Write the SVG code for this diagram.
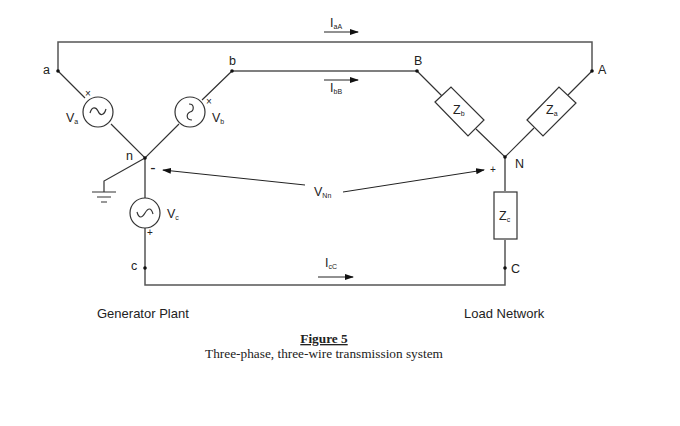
<svg xmlns="http://www.w3.org/2000/svg" width="680" height="426" viewBox="0 0 680 426">
<style>
.w{fill:none;stroke:#333;stroke-width:1.2}
.g{fill:none;stroke:#555;stroke-width:1.5}
.c{fill:#fff;stroke:#333;stroke-width:1.2}
.t{font-family:"Liberation Sans",Arial,sans-serif;font-size:12.5px;fill:#222}
.l{font-size:13px}
.x{font-size:10px;text-anchor:middle}
.s{font-size:7px}
.f{font-family:"Liberation Serif","Times New Roman",serif;font-size:13.3px;fill:#222;text-anchor:middle}
.ar{fill:none;stroke:#222;stroke-width:1;marker-end:url(#ah)}
.d{fill:#111}
</style>
<defs><marker id="ah" markerWidth="9" markerHeight="6" refX="8" refY="3" orient="auto" markerUnits="userSpaceOnUse"><path d="M0,0L9,3L0,6Z" fill="#111"/></marker></defs>
<rect width="680" height="426" fill="#fff"/>
<g id="connectors">
<path class="g" d="M58,71V42H592V71"/>
<path class="g" d="M232,71H417"/>
<path class="w" d="M58,71L85,98M111,124L145,158L179,124M202,100L232,71"/>
<path class="w" d="M417,71L442,96M476,129L505,157L534,128M568,95L592,71"/>
<path class="g" d="M145,158V198M145,228V285H505V240M505,157V191"/>
<path class="w" d="M145,158L104,181V192"/>
<path class="w" d="M92,192H116M97,197H111M101,202H107"/>
<path class="ar" d="M324,32H358"/>
<path class="ar" d="M324,80H358"/>
<path class="ar" d="M318,277H353"/>
<path class="ar" d="M305,185L163,170"/>
<path class="ar" d="M343,192L484,170"/>
</g>
<g id="node-a"><circle class="d" cx="58" cy="71" r="1.8"/><text class="t" x="43" y="74">a</text></g>
<g id="node-b"><circle class="d" cx="232" cy="71" r="1.8"/><text class="t" x="229" y="65">b</text></g>
<g id="node-B"><circle class="d" cx="417" cy="71" r="1.8"/><text class="t" x="414" y="65">B</text></g>
<g id="node-A"><circle class="d" cx="592" cy="71" r="1.8"/><text class="t" x="598" y="74">A</text></g>
<g id="node-n"><circle class="d" cx="145" cy="158" r="1.8"/><text class="t" x="126" y="160">n</text></g>
<g id="node-N"><circle class="d" cx="505" cy="157" r="1.8"/><text class="t" x="515" y="168">N</text></g>
<g id="node-c"><circle class="d" cx="145" cy="268" r="1.8"/><text class="t" x="131" y="270">c</text></g>
<g id="node-C"><circle class="d" cx="505" cy="268" r="1.8"/><text class="t" x="511" y="273">C</text></g>
<g id="source-a"><circle class="c" cx="98" cy="112" r="15"/><path class="w" d="M90,113C92,106 96,107 98,111C100,116 104,116 106,109"/><text class="t x" x="88" y="97">×</text><text class="t" x="66" y="122">V<tspan class="s" dy="2">a</tspan></text></g>
<g id="source-b"><circle class="c" cx="190" cy="112" r="15"/><path class="w" d="M189,104C195,104 194,111 190,112C186,114 186,120 192,120"/><text class="t x" x="209" y="105">×</text><text class="t" x="212" y="122">V<tspan class="s" dy="2">b</tspan></text></g>
<g id="source-c"><circle class="c" cx="145" cy="213" r="15"/><path class="w" d="M137,212C139,219 142,218 145,213C148,208 151,207 153,214"/><text class="t" x="167" y="218">V<tspan class="s" dy="2">c</tspan></text><text class="t x" x="150" y="236">+</text></g>
<g id="load-b"><path class="c" d="M435,102L451,87L484,120L468,136Z"/><text class="t" x="453" y="114">Z<tspan class="s" dy="2">b</tspan></text></g>
<g id="load-a"><path class="c" d="M527,120L559,87L576,103L543,136Z"/><text class="t" x="546" y="114">Z<tspan class="s" dy="2">a</tspan></text></g>
<g id="load-c"><rect class="c" x="494" y="192" width="23" height="47"/><text class="t" x="499" y="220">Z<tspan class="s" dy="2">c</tspan></text></g>
<g id="labels">
<text class="t" x="330" y="27">I<tspan class="s" dy="2">aA</tspan></text>
<text class="t" x="330" y="92">I<tspan class="s" dy="2">bB</tspan></text>
<text class="t" x="325" y="267">I<tspan class="s" dy="2">cC</tspan></text>
<text class="t" x="314" y="196">V<tspan class="s" dy="2">Nn</tspan></text>
<text class="t x" x="153" y="173" style="font-size:16px">-</text>
<text class="t x" x="493" y="173">+</text>
<text class="t l" x="97" y="318">Generator Plant</text>
<text class="t l" x="464" y="318">Load Network</text>
<text class="f" x="324" y="343" style="font-weight:bold;text-decoration:underline">Figure 5</text>
<text class="f" x="324" y="358">Three-phase, three-wire transmission system</text>
</g>
</svg>
